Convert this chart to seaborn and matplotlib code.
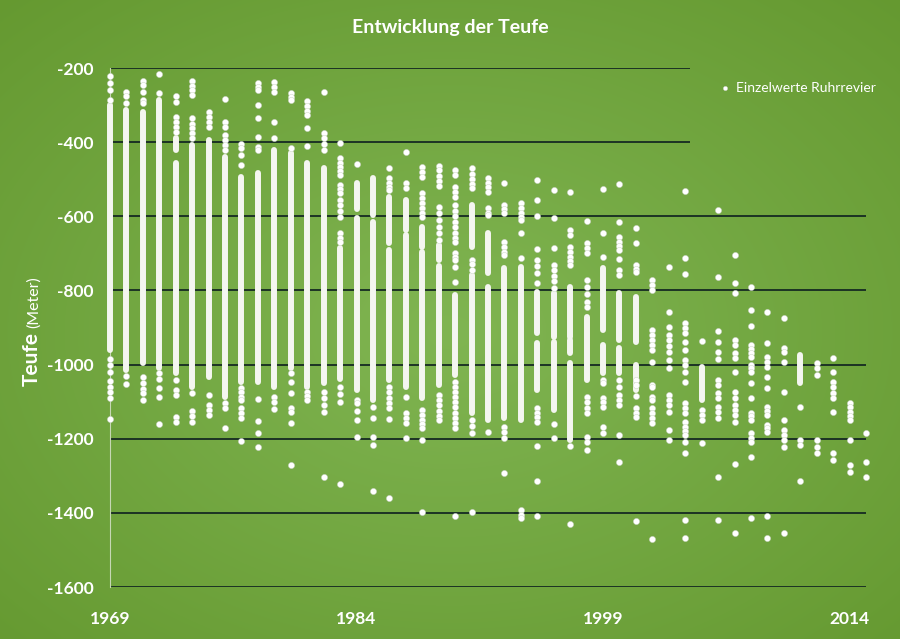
import numpy as np
import pandas as pd
import matplotlib
matplotlib.use("Agg")
import matplotlib.pyplot as plt
import seaborn as sns
from matplotlib.colors import to_rgb

# Jahre 1969 - 2015, Teufe in Meter (negativ)
jahre = list(range(1969, 2016))
x_ticks = [1969, 1984, 1999, 2014]
y_ticks = [-200, -400, -600, -800, -1000, -1200, -1400, -1600]

# dichte Punktreihen: (Jahr, oben, unten)
dichte_reihen = [
    (1969, -300, -960), (1970, -313, -1015), (1971, -320, -995), (1972, -285, -1010),
    (1973, -390, -420), (1973, -455, -1023), (1974, -408, -1060), (1975, -394, -1034),
    (1976, -440, -1088), (1977, -494, -1047), (1978, -483, -1047), (1979, -421, -1061),
    (1980, -430, -1009), (1981, -456, -1061), (1982, -470, -1050), (1983, -686, -1040),
    (1984, -510, -580), (1984, -605, -1069), (1985, -497, -597), (1985, -616, -1096),
    (1986, -548, -672), (1986, -690, -1042), (1987, -556, -637), (1987, -650, -1061),
    (1988, -629, -683), (1988, -695, -1090), (1989, -678, -718), (1989, -735, -1055),
    (1990, -813, -1028), (1991, -570, -683), (1991, -759, -1131), (1992, -645, -753),
    (1992, -790, -1150), (1993, -740, -1144), (1994, -737, -1150), (1995, -804, -915),
    (1995, -942, -1069), (1996, -807, -926), (1996, -940, -1123), (1997, -791, -926),
    (1997, -934, -969), (1997, -996, -1204), (1998, -872, -1042), (1999, -740, -907),
    (1999, -947, -1023), (2000, -807, -934), (2000, -955, -1023), (2001, -818, -939),
    (2001, -1001, -1069), (2005, -1007, -1096), (2011, -974, -1050),
]

# einzelne Punkte je Jahr
einzelwerte = {
    1969: [-222, -240, -260, -285, -985, -1000, -1020, -1045, -1060, -1075, -1090, -1148],
    1970: [-265, -275, -295, -1030, -1053],
    1971: [-235, -245, -265, -285, -295, -1033, -1050, -1065, -1077, -1096],
    1972: [-216, -267, -1023, -1040, -1063, -1088, -1160],
    1973: [-276, -292, -332, -345, -360, -373, -1042, -1069, -1082, -1142, -1155],
    1974: [-235, -248, -260, -273, -335, -350, -362, -375, -389, -1077, -1125, -1140, -1155],
    1975: [-319, -332, -345, -359, -1082, -1110, -1123, -1136],
    1976: [-284, -346, -359, -381, -395, -408, -421, -1104, -1117, -1171],
    1977: [-405, -416, -435, -462, -1063, -1075, -1088, -1096, -1117, -1130, -1144, -1206],
    1978: [-240, -250, -259, -300, -335, -386, -413, -421, -1093, -1152, -1185, -1223],
    1979: [-238, -250, -265, -346, -389, -1088, -1101, -1120],
    1980: [-267, -278, -286, -416, -1023, -1047, -1077, -1117, -1128, -1158, -1271],
    1981: [-289, -302, -315, -327, -362, -410, -1074, -1085, -1096],
    1982: [-265, -375, -390, -405, -421, -1074, -1090, -1110, -1128, -1303],
    1983: [-402, -443, -455, -467, -478, -489, -516, -527, -537, -556, -570, -585, -602,
           -645, -658, -670, -1060, -1080, -1100, -1322],
    1984: [-459, -1096, -1104, -1125, -1150, -1196],
    1985: [-1114, -1144, -1196, -1217, -1341],
    1986: [-470, -497, -510, -520, -529, -1061, -1075, -1090, -1104, -1117, -1147, -1360],
    1987: [-427, -510, -524, -1088, -1131, -1145, -1158, -1198],
    1988: [-467, -480, -494, -537, -551, -564, -577, -590, -602, -1123, -1135, -1150,
           -1160, -1171, -1204, -1398],
    1989: [-464, -475, -490, -505, -518, -575, -590, -610, -629, -645, -664, -1082, -1095,
           -1110, -1125, -1140, -1150],
    1990: [-475, -489, -521, -535, -548, -570, -585, -600, -615, -629, -645, -658, -670,
           -699, -710, -718, -737, -777, -1047, -1060, -1075, -1088, -1101, -1115, -1130,
           -1145, -1158, -1171, -1409],
    1991: [-470, -485, -500, -512, -524, -718, -730, -745, -1150, -1165, -1185, -1398],
    1992: [-497, -510, -522, -535, -578, -590, -597, -1182],
    1993: [-510, -570, -580, -591, -670, -683, -695, -705, -1169, -1183, -1198, -1292],
    1994: [-564, -577, -590, -602, -610, -645, -713, -1392, -1405, -1414],
    1995: [-502, -556, -599, -688, -718, -735, -753, -780, -1117, -1130, -1142, -1155,
           -1220, -1314, -1409],
    1996: [-529, -605, -686, -732, -745, -760, -775, -794, -1160, -1198],
    1997: [-535, -637, -651, -683, -695, -710, -720, -732, -1220, -1430],
    1998: [-613, -672, -685, -699, -772, -790, -810, -830, -845, -1088, -1100, -1117,
           -1131, -1196, -1210, -1231],
    1999: [-526, -645, -710, -1042, -1050, -1090, -1102, -1114, -1169, -1185],
    2000: [-513, -616, -656, -670, -680, -691, -715, -745, -759, -1042, -1061, -1082,
           -1095, -1109, -1190, -1263],
    2001: [-632, -672, -732, -741, -750, -1042, -1055, -1085, -1117, -1130, -1142, -1422],
    2002: [-772, -785, -799, -907, -920, -935, -948, -961, -993, -1055, -1061, -1088,
           -1096, -1117, -1130, -1145, -1158, -1471],
    2003: [-737, -858, -899, -920, -935, -950, -965, -988, -1009, -1082, -1095, -1110,
           -1128, -1177, -1204],
    2004: [-532, -713, -756, -888, -900, -915, -939, -961, -988, -1000, -1020, -1047,
           -1104, -1118, -1131, -1155, -1168, -1180, -1190, -1209, -1239, -1420, -1468],
    2005: [-937, -1123, -1136, -1150, -1212],
    2006: [-583, -764, -910, -939, -966, -985, -1042, -1055, -1077, -1090, -1114, -1128,
           -1144, -1303, -1420],
    2007: [-704, -780, -807, -934, -947, -969, -982, -1020, -1074, -1090, -1109, -1122,
           -1135, -1155, -1268, -1455],
    2008: [-791, -853, -896, -947, -958, -969, -980, -1001, -1010, -1020, -1050, -1090,
           -1131, -1140, -1150, -1185, -1197, -1209, -1250, -1414],
    2009: [-858, -942, -980, -993, -1007, -1034, -1063, -1114, -1125, -1136, -1163,
           -1172, -1182, -1409, -1468],
    2010: [-875, -955, -966, -993, -1074, -1150, -1177, -1190, -1203, -1223, -1455],
    2011: [-1114, -1204, -1217, -1314],
    2012: [-996, -1010, -1028, -1204, -1223, -1239],
    2013: [-982, -1020, -1047, -1060, -1077, -1090, -1128, -1239, -1258],
    2014: [-1104, -1115, -1127, -1140, -1150, -1204, -1271, -1290],
    2015: [-1185, -1263, -1303],
}

zeilen = [(j, t) for j in jahre for t in einzelwerte.get(j, [])]
df = pd.DataFrame(zeilen, columns=["Jahr", "Teufe"])

sns.set_style("white")
plt.rcParams["font.family"] = ["Lato", "DejaVu Sans"]

W, H = 900, 639
fig = plt.figure(figsize=(W / 100, H / 100), dpi=100)

# gruener Hintergrund mit radialem Verlauf
bg = fig.add_axes([0, 0, 1, 1], zorder=-5)
yy, xx = np.mgrid[0:1:H * 1j, 0:1:W * 1j]
r = np.sqrt(((xx - 0.5) / 0.75) ** 2 + ((yy - 0.52) / 0.75) ** 2)
r = np.clip(r, 0, 1)[..., None]
mitte = np.array(to_rgb("#80b552"))
rand = np.array(to_rgb("#64982f"))
bild = mitte * (1 - r) + rand * r
bg.imshow(bild, aspect="auto", extent=[0, 1, 0, 1])
bg.axis("off")

ax = fig.add_axes([110 / W, (H - 587) / H, 756 / W, (587 - 68) / H])
ax.set_facecolor("none")
ax.set_xlim(1969, 2015)
ax.set_ylim(-1600, -200)

# Gitterlinien, die oberen zwei enden vor der Legende
for y in y_ticks:
    x_ende = 2004.3 if y in (-200, -400) else 2015
    ax.hlines(y, 1969, x_ende, color="#152a22", linewidth=1.3, zorder=1)

# dichte Reihen als durchgehende Punktbalken
lc = ax.vlines([d[0] for d in dichte_reihen], [d[2] for d in dichte_reihen],
               [d[1] for d in dichte_reihen], color="#f4f6f0", linewidth=4.3,
               zorder=3, clip_on=False)
lc.set_capstyle("round")

sns.scatterplot(data=df, x="Jahr", y="Teufe", color="white", s=20,
                edgecolor="#c4cfbd", linewidth=0.3, ax=ax, zorder=4,
                clip_on=False, label="Einzelwerte Ruhrrevier")

handles, labels = ax.get_legend_handles_labels()
ax.get_legend().remove()
leg = fig.legend(handles, labels, loc="center left",
                 bbox_to_anchor=(713 / W, 1 - 88 / H), frameon=False,
                 handlelength=0.7, handletextpad=0.45, borderpad=0,
                 fontsize=10, labelcolor="white", markerscale=0.7)

for s in ["top", "right", "bottom"]:
    ax.spines[s].set_visible(False)
ax.spines["left"].set_color("#c6d7b4")
ax.spines["left"].set_linewidth(0.8)

ax.set_xticks(x_ticks)
ax.set_xticklabels([str(j) for j in x_ticks], fontweight="bold")
ax.set_yticks(y_ticks)
ax.set_yticklabels([str(v) for v in y_ticks], fontweight="bold")
ax.tick_params(axis="both", length=0, colors="white", labelsize=12.5)
ax.tick_params(axis="x", pad=17)
ax.tick_params(axis="y", pad=12)
ax.set_xlabel("")
ax.set_ylabel("")

fig.text(0.5, 1 - 28 / H, "Entwicklung der Teufe", color="white",
         fontsize=14, fontweight="bold", ha="center", va="center")
fig.text(32 / W, 1 - 386 / H, "Teufe", color="white", fontsize=15,
         fontweight="bold", rotation=90, ha="center", va="bottom")
fig.text(34 / W, 1 - 328 / H, "(Meter)", color="white", fontsize=11.5,
         rotation=90, ha="center", va="bottom")

fig.savefig("out.png", dpi=100)
